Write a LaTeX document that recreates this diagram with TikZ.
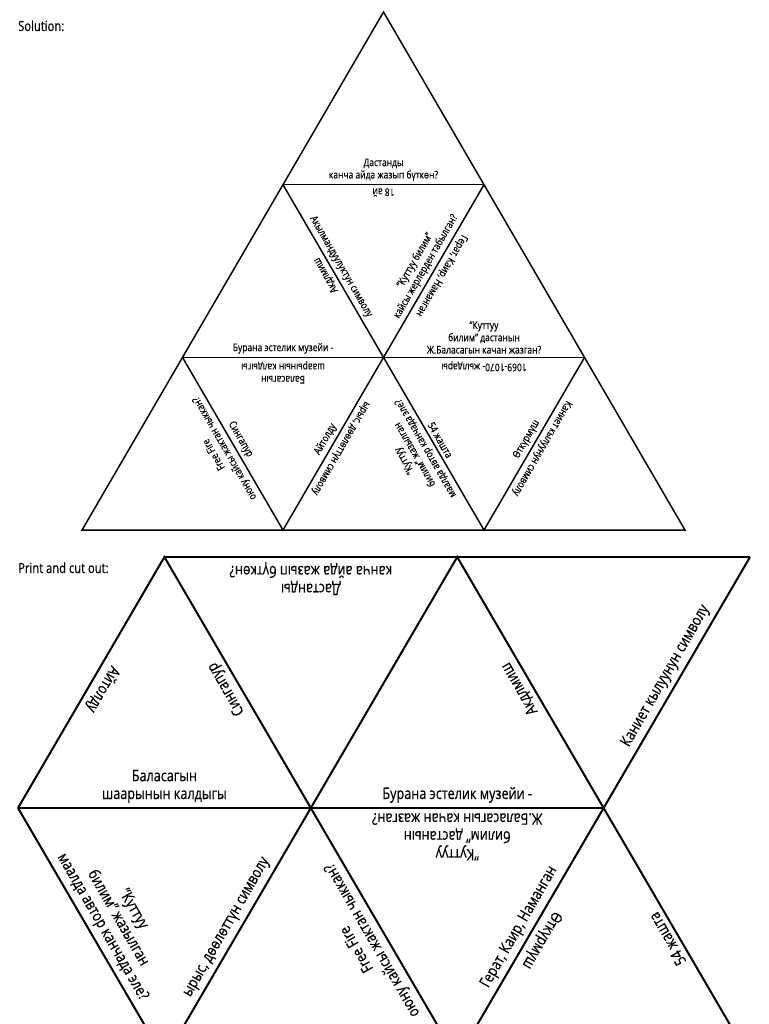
\documentclass[tikz,border=0pt]{standalone}
\usepackage{fontspec}
\setmainfont[FakeStretch=0.8,FakeBold=0.35]{Open Sans}
\usetikzlibrary{calc}
% text set along the middle of a triangle side: style, name, side ends, angle, text
\newcommand{\tiletext}[6]{\node[#1,rotate=#5] (#2) at ($(#3)!0.5!(#4)$) {#6};}
\begin{document}
\begin{tikzpicture}[x=1pt,y=-1pt,
  gridline/.style={line width=1.5pt,line join=miter},
  cutline/.style={line width=2pt,line join=miter},
  sollab/.style={font=\fontsize{10.6}{12.3}\selectfont,align=center,inner xsep=0pt,inner ysep=3.5pt,anchor=south},
  prtlab/.style={font=\fontsize{15.8}{17.8}\selectfont,align=center,inner xsep=0pt,inner ysep=5pt,anchor=south},
  heading/.style={font=\fontsize{14}{16}\selectfont,anchor=base west,inner sep=0pt}]
\useasboundingbox (0,0) rectangle (768,1024);
\fill[white] (0,0) rectangle (768,1024);
\clip (0,0) rectangle (768,1024);

% grid points of the assembled triangle
\foreach \r in {0,...,3}{
  \foreach \k in {0,...,\r}{
    \coordinate (s\r\k) at ({383.5+(2*\k-\r)*100.5},{12+\r*172.7});
  }
}
% grid points of the cut-out strip
\foreach \c in {0,1,2}{
  \coordinate (p0\c) at ({18+(2*\c+1)*146.4},557);
  \coordinate (p1\c) at ({18+2*\c*146.4},808);
  \coordinate (p2\c) at ({18+(2*\c+1)*146.4},1059);
}

\node[heading] (soltitle) at (18,31) {Solution:};
\node[heading] (prttitle) at (18,573) {Print and cut out:};

% assembled triangle
\draw[gridline] (s00) -- (s30) -- (s33) -- cycle;
\draw[gridline] (s10) -- (s11) (s20) -- (s22);
\draw[gridline] (s11) -- (s31) (s22) -- (s32);
\draw[gridline] (s10) -- (s32) (s20) -- (s31);

\tiletext{sollab}{a1}{s10}{s11}{0}{Дастанды\\канча айда жазып бүткөн?}
\tiletext{sollab}{a2}{s10}{s11}{180}{18 ай}
\tiletext{sollab}{a3}{s10}{s21}{-60}{Акылмандуулуктун символу}
\tiletext{sollab}{a4}{s10}{s21}{120}{Акдлмиш}
\tiletext{sollab}{a5}{s11}{s21}{60}{"Куттуу билим"\\кайсы жерлерден табылган?}
\tiletext{sollab}{a6}{s11}{s21}{-120}{Герат, Каир, Наманган}
\tiletext{sollab}{a7}{s20}{s21}{0}{Бурана эстелик музейи -}
\tiletext{sollab}{a8}{s20}{s21}{180}{Баласагын\\шаарынын калдыгы}
\tiletext{sollab}{a9}{s21}{s22}{0}{"Куттуу\\билим" дастанын\\Ж.Баласагын качан жазган?}
\tiletext{sollab}{a10}{s21}{s22}{180}{1069-1070- жылдары}
\tiletext{sollab}{a11}{s20}{s31}{120}{Free Fire\\оюну кайсы жактан чыккан?}
\tiletext{sollab}{a12}{s20}{s31}{-60}{Сингапур}
\tiletext{sollab}{a13}{s21}{s31}{60}{Айтолду}
\tiletext{sollab}{a14}{s21}{s31}{-120}{ырыс, дөөлөттүн символу}
\tiletext{sollab}{a15}{s21}{s32}{120}{"Куттуу\\билим" жазылган\\маалда автор канчада эле?}
\tiletext{sollab}{a16}{s21}{s32}{-60}{54 жашта}
\tiletext{sollab}{a17}{s22}{s32}{60}{Өткүрмүш}
\tiletext{sollab}{a18}{s22}{s32}{-120}{Каниет кылуунун символу}

% cut-out strip
\draw[cutline] (p00) -- (p02) (p10) -- (p12);
\draw[cutline] (p10) -- (p00) -- (p11) -- (p01) -- (p12) -- (p02);
\draw[cutline] (p10) -- (p20) -- (p11) -- (p21) -- (p12) -- (p22);
\draw[cutline] (p20) -- (p22);

\tiletext{prtlab}{b1}{p10}{p11}{0}{Баласагын\\шаарынын калдыгы}
\tiletext{prtlab}{b2}{p10}{p00}{-120}{Айтолду}
\tiletext{prtlab}{b3}{p00}{p11}{120}{Сингапур}
\tiletext{prtlab}{b4}{p00}{p01}{180}{Дастанды\\канча айда жазып бүткөн?}
\tiletext{prtlab}{b5}{p11}{p12}{0}{Бурана эстелик музейи -}
\tiletext{prtlab}{b6}{p01}{p12}{120}{Акдлмиш}
\tiletext{prtlab}{b7}{p02}{p12}{60}{Каниет кылуунун символу}
\tiletext{prtlab}{b8}{p10}{p20}{-60}{"Куттуу\\билим" жазылган\\маалда автор канчада эле?}
\tiletext{prtlab}{b9}{p11}{p20}{60}{ырыс, дөөлөттүн символу}
\tiletext{prtlab}{b10}{p11}{p21}{120}{Free Fire\\оюну кайсы жактан чыккан?}
\tiletext{prtlab}{b11}{p11}{p12}{180}{"Куттуу\\билим" дастанын\\Ж.Баласагын качан жазган?}
\tiletext{prtlab}{b12}{p12}{p21}{60}{Герат, Каир, Наманган}
\tiletext{prtlab}{b13}{p12}{p21}{-120}{Өткүрмүш}
\tiletext{prtlab}{b14}{p12}{p22}{120}{54 жашта}
\end{tikzpicture}
\end{document}
